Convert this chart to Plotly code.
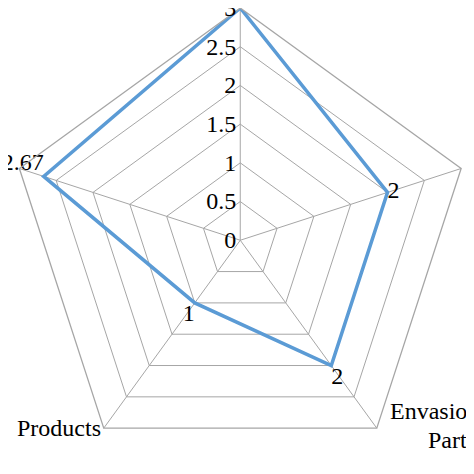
import plotly.graph_objects as go

categories = ["Top", "S", "Envasion de Particulas", "Products", "Left"]
values = [3, 2, 2, 1, 2.67]
labels = ["3", "2", "2", "1", "2.67"]
ticks = [0, 0.5, 1, 1.5, 2, 2.5, 3]

font = dict(family="Liberation Serif", size=24, color="black")
fig = go.Figure(go.Scatterpolar(
    r=values + values[:1], theta=categories + categories[:1],
    mode="lines+text", line=dict(color="#5B9BD5", width=3.5),
    text=labels + [""], textfont=font,
    textposition=["top center", "middle right", "bottom right", "bottom left", "top left", "top center"],
    cliponaxis=False, showlegend=False))
fig.update_layout(
    width=474, height=474, margin=dict(l=0, r=0, t=0, b=0),
    paper_bgcolor="white", font=font,
    polar=dict(
        domain=dict(x=[0, 0.98], y=[0.02, 1]), gridshape="linear", bgcolor="white",
        radialaxis=dict(range=[0, 3], tickvals=ticks, ticktext=["0", "0.5", "1", "1.5", "2", "2.5", "3"],
                        angle=90, tickangle=90, side="counterclockwise", showline=False,
                        gridcolor="#A6A6A6", gridwidth=1.3, ticks="", tickfont=font),
        angularaxis=dict(direction="clockwise", rotation=90, showticklabels=False,
                         gridcolor="#A6A6A6", linecolor="#A6A6A6", linewidth=1.3, gridwidth=1.3)),
    annotations=[
        dict(x=95/474, y=1-435/474, xref="paper", yref="paper", text="Products", showarrow=False, xanchor="right", font=font),
        dict(x=380/474, y=1-418/474, xref="paper", yref="paper", text="Envasion de", showarrow=False, xanchor="left", font=font),
        dict(x=418/474, y=1-447/474, xref="paper", yref="paper", text="Particulas", showarrow=False, xanchor="left", font=font),
        dict(x=470/474, y=1-157/474, xref="paper", yref="paper", text="S", showarrow=False, xanchor="left", font=font),
    ])
fig.write_html("out.html")
